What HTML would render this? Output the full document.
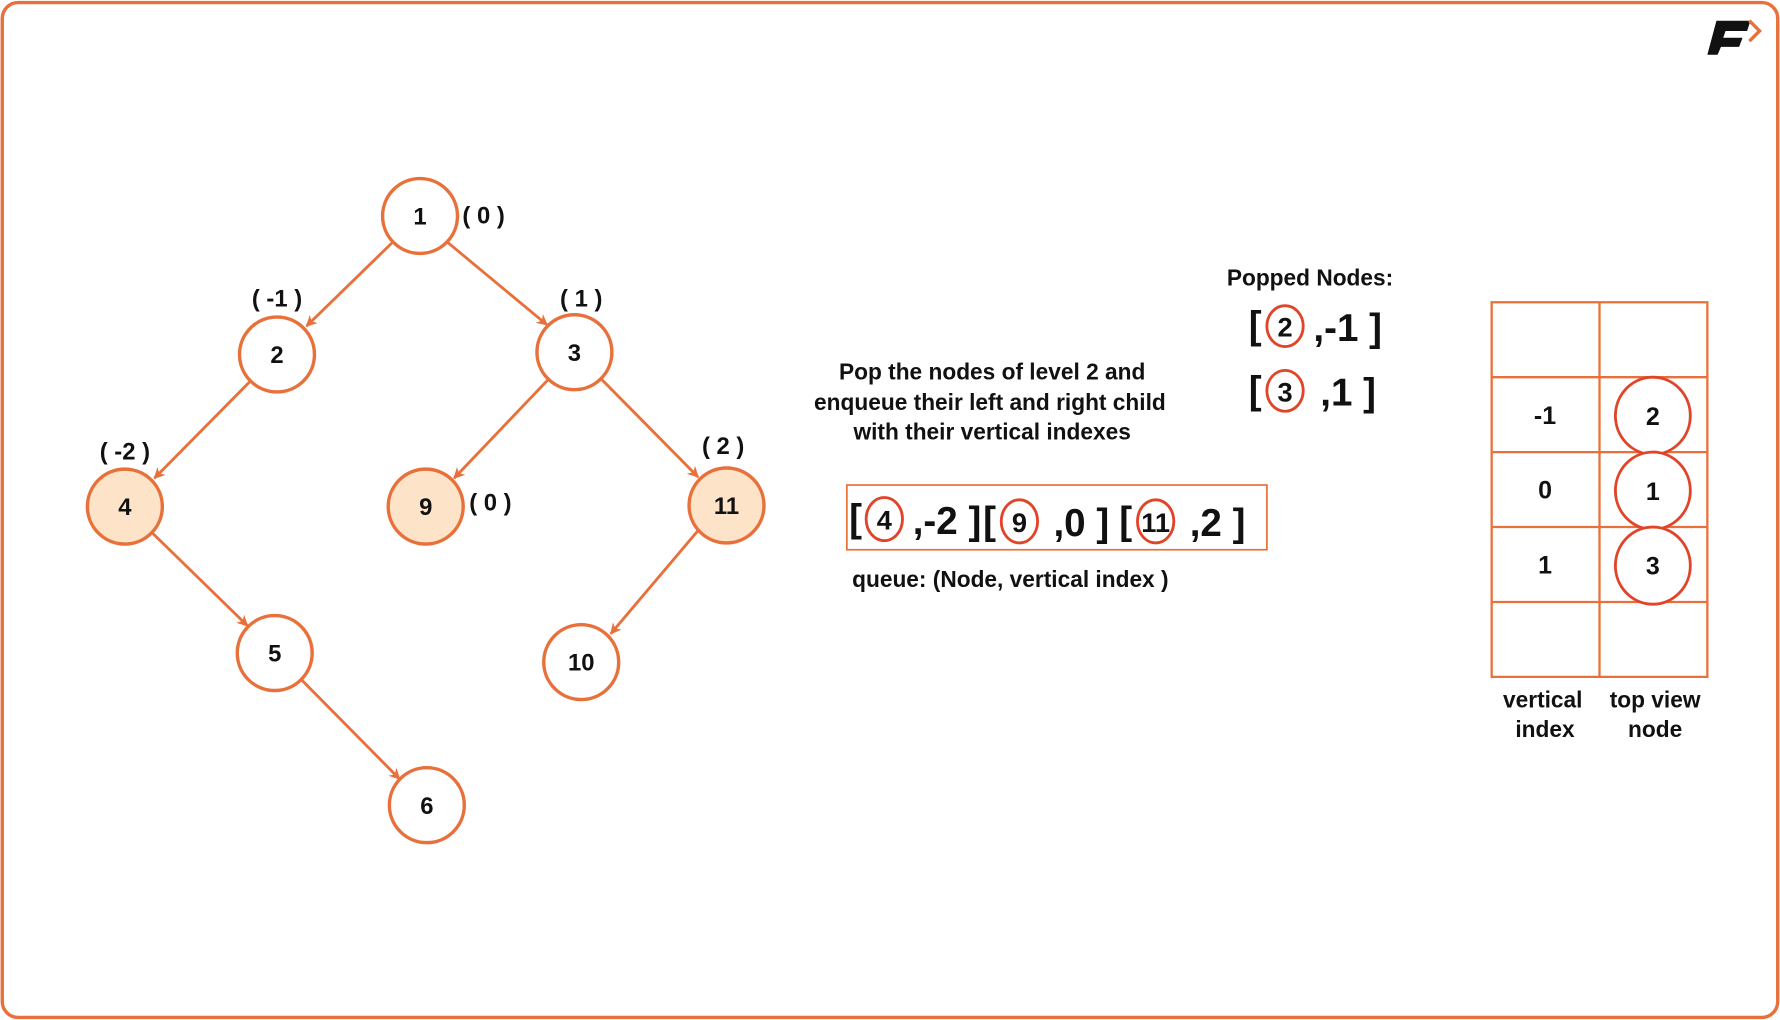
<!DOCTYPE html>
<html><head><meta charset="utf-8"><style>
html,body{margin:0;padding:0;background:#fff;}
svg{display:block}
text{font-family:"Liberation Sans Narrow","Liberation Sans",sans-serif;font-weight:bold;fill:#111;text-anchor:middle;dominant-baseline:central}
</style></head><body>
<svg width="1780" height="1020" viewBox="0 0 1568 898" xmlns="http://www.w3.org/2000/svg">
<defs><marker id="a" markerWidth="10" markerHeight="10" refX="9" refY="5" orient="auto" markerUnits="userSpaceOnUse"><path d="M0,0 L10,5 L0,10 L3,5 Z" fill="#e8703a"/></marker></defs>
<rect x="2" y="2" width="1564" height="894" rx="14" fill="#fff" stroke="#e8703a" stroke-width="3"/>
<!-- logo -->
<path d="M1512,18 L1542,18 L1539,27 L1520,27 L1518,33 L1535,33 L1532,41 L1516,41 L1513,48 L1504,48 Z" fill="#111"/>
<path d="M1541,18 L1550,27 L1541,36" fill="none" stroke="#e8703a" stroke-width="3"/>
<g stroke="#e8703a" stroke-width="2.5" fill="none" marker-end="url(#a)">
<line x1="346" y1="213" x2="270" y2="287"/>
<line x1="394" y1="213" x2="482" y2="286"/>
<line x1="220" y1="336" x2="136" y2="421"/>
<line x1="483" y1="334" x2="400" y2="421"/>
<line x1="530" y1="334" x2="615" y2="420"/>
<line x1="134" y1="469" x2="218" y2="551"/>
<line x1="615" y1="467" x2="538" y2="558"/>
<line x1="266" y1="599" x2="352" y2="686"/>
</g>
<g stroke="#e8703a" stroke-width="3">
<circle cx="370" cy="190" r="33" fill="#fff"/>
<circle cx="244" cy="312" r="33" fill="#fff"/>
<circle cx="506" cy="310" r="33" fill="#fff"/>
<circle cx="110" cy="446" r="33" fill="#fde3c8"/>
<circle cx="375" cy="446" r="33" fill="#fde3c8"/>
<circle cx="640" cy="445" r="33" fill="#fde3c8"/>
<circle cx="242" cy="575" r="33" fill="#fff"/>
<circle cx="512" cy="583" r="33" fill="#fff"/>
<circle cx="376" cy="709" r="33" fill="#fff"/>
</g>
<g font-size="21">
<text x="370" y="191">1</text><text x="244" y="313">2</text><text x="506" y="311">3</text>
<text x="110" y="447">4</text><text x="375" y="447">9</text><text x="640" y="446">11</text>
<text x="242" y="576">5</text><text x="512" y="584">10</text><text x="376" y="710">6</text>
<text x="426" y="190">( 0 )</text><text x="244" y="263">( -1 )</text><text x="512" y="263">( 1 )</text>
<text x="110" y="398">( -2 )</text><text x="432" y="443">( 0 )</text><text x="637" y="393">( 2 )</text>
</g>
<g font-size="20">
<text x="874" y="327">Pop the nodes of level 2 and</text>
<text x="872" y="354">enqueue their left and right child</text>
<text x="874" y="380">with their vertical indexes</text>
<text x="890" y="510">queue: (Node, vertical index )</text>
<text x="1154" y="244">Popped Nodes:</text>
</g>
<rect x="746" y="427" width="370" height="57" fill="none" stroke="#e8703a" stroke-width="1.5"/>
<g stroke="#e0452a" stroke-width="2.5" fill="none">
<ellipse cx="779" cy="457" rx="16" ry="19"/><ellipse cx="898" cy="459" rx="16" ry="19"/><ellipse cx="1018" cy="459" rx="16" ry="19"/>
<ellipse cx="1132" cy="287" rx="16" ry="18"/><ellipse cx="1132" cy="344" rx="16" ry="18"/>
</g>
<g font-size="34" style="text-anchor:start">
<text x="748" y="457" style="text-anchor:start">[</text>
<text x="804" y="459" style="text-anchor:start">,-2 ]</text>
<text x="866" y="459" style="text-anchor:start">[</text>
<text x="928" y="461" style="text-anchor:start">,0 ]</text>
<text x="986" y="459" style="text-anchor:start">[</text>
<text x="1048" y="461" style="text-anchor:start">,2 ]</text>
<text x="1100" y="287" style="text-anchor:start">[</text>
<text x="1157" y="289" style="text-anchor:start">,-1 ]</text>
<text x="1100" y="344" style="text-anchor:start">[</text>
<text x="1163" y="346" style="text-anchor:start">,1 ]</text>
</g>
<g font-size="24">
<text x="779" y="458">4</text><text x="898" y="460">9</text><text x="1018" y="460">11</text>
<text x="1132" y="288">2</text><text x="1132" y="345">3</text>
</g>
<g stroke="#e8703a" stroke-width="2" fill="none">
<rect x="1314" y="266" width="190" height="330"/>
<line x1="1409" y1="266" x2="1409" y2="596"/>
<line x1="1314" y1="332" x2="1504" y2="332"/>
<line x1="1314" y1="398" x2="1504" y2="398"/>
<line x1="1314" y1="464" x2="1504" y2="464"/>
<line x1="1314" y1="530" x2="1504" y2="530"/>
</g>
<g stroke="#e0452a" stroke-width="2.5" fill="#fff">
<ellipse cx="1456" cy="366" rx="33" ry="34"/><ellipse cx="1456" cy="432" rx="33" ry="34"/><ellipse cx="1456" cy="498" rx="33" ry="34"/>
</g>
<g font-size="22">
<text x="1361" y="366">-1</text><text x="1361" y="432">0</text><text x="1361" y="498">1</text>
<text x="1456" y="367">2</text><text x="1456" y="433">1</text><text x="1456" y="499">3</text>
</g>
<g font-size="20">
<text x="1359" y="616">vertical</text><text x="1361" y="642">index</text>
<text x="1458" y="616">top view</text><text x="1458" y="642">node</text>
</g>
</svg>
</body></html>
